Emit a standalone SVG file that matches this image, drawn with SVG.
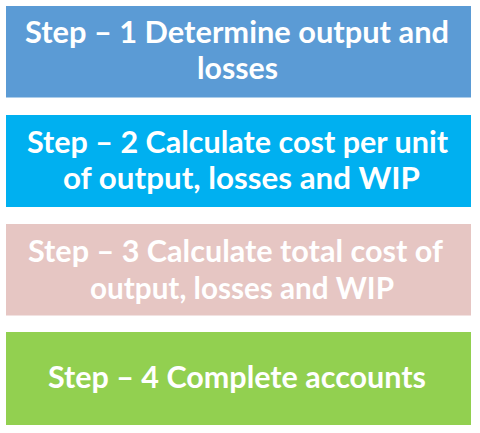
<svg xmlns="http://www.w3.org/2000/svg" width="480" height="433" viewBox="0 0 480 433">
<style>
.box{stroke:none}
.t{font-family:Lato,"Open Sans","Liberation Sans",sans-serif;font-weight:bold;font-size:30px;fill:#ffffff;text-anchor:middle}
</style>
<rect width="480" height="433" fill="#ffffff"/>
<g id="step1">
<rect class="box" x="6" y="6" width="465" height="91.5" fill="#5B9BD5"/>
<text class="t" x="237" y="43" textLength="424" lengthAdjust="spacingAndGlyphs">Step – 1 Determine output and</text>
<text class="t" x="237.5" y="79" textLength="81" lengthAdjust="spacingAndGlyphs">losses</text>
</g>
<g id="step2">
<rect class="box" x="6" y="115" width="465" height="92" fill="#00B0F0"/>
<text class="t" x="237.5" y="153" textLength="421" lengthAdjust="spacingAndGlyphs">Step – 2 Calculate cost per unit</text>
<text class="t" x="241.5" y="189" textLength="357" lengthAdjust="spacingAndGlyphs">of output, losses and WIP</text>
</g>
<g id="step3">
<rect class="box" x="6" y="224" width="465" height="91.5" fill="#E6C6C3"/>
<text class="t" x="235.5" y="262" textLength="415" lengthAdjust="spacingAndGlyphs">Step – 3 Calculate total cost of</text>
<text class="t" x="242" y="299" textLength="304" lengthAdjust="spacingAndGlyphs">output, losses and WIP</text>
</g>
<g id="step4">
<rect class="box" x="6" y="332" width="465" height="93" fill="#92D050"/>
<text class="t" x="237" y="388" textLength="378" lengthAdjust="spacingAndGlyphs">Step – 4 Complete accounts</text>
</g>
<g id="connectors"></g>
</svg>
